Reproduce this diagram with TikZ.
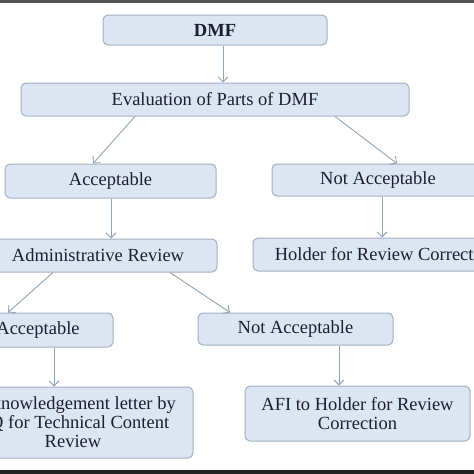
\documentclass[tikz,border=0pt]{standalone}
\usepackage{fontspec}
\setmainfont{Liberation Serif}
\usetikzlibrary{arrows.meta}
\definecolor{boxfill}{HTML}{DCE6F2}
\definecolor{boxline}{HTML}{A3B0C0}
\definecolor{arrowcol}{HTML}{8FA5B7}
\definecolor{txt}{HTML}{1E1E32}
\tikzset{
  box/.style={draw=boxline, line width=1pt, fill=boxfill, rounded corners=5pt,
    text=txt, font=\fontsize{18.5}{19}\selectfont, align=center, inner sep=0pt},
  conn/.style={draw=arrowcol, line width=0.9pt, -{Straight Barb[length=5pt,width=10pt]}}
}
\begin{document}
\begin{tikzpicture}[x=1pt,y=-1pt]
\useasboundingbox (0,0) rectangle (474,474);
\clip (0,0) rectangle (474,474);
\fill[white] (0,0) rectangle (474,474);
\fill[black!67] (0,0) rectangle (474,2.5);
\fill[black!87] (0,469.5) rectangle (474,474);
\node[box, minimum width=224pt, minimum height=30pt] (dmf) at (215,30) {\textbf{DMF}};
\node[box, minimum width=388pt, minimum height=33pt] (eval) at (215,99.5) {Evaluation of Parts of DMF};
\node[box, minimum width=211pt, minimum height=34pt] (acc1) at (110.5,181) {Acceptable};
\node[box, minimum width=212pt, minimum height=32pt] (nacc1) at (378,180) {Not Acceptable};
\node[box, minimum width=238pt, minimum height=33pt] (admin) at (98,255.5) {Administrative Review};
\node[box, minimum width=266pt, minimum height=33pt] (holder) at (386,254.5) {Holder for Review Correction};
\node[box, minimum width=150pt, minimum height=34pt] (acc3) at (38,330) {Acceptable};
\node[box, minimum width=195pt, minimum height=32pt] (nacc3) at (295.5,329) {Not Acceptable};
\node[box, minimum width=240pt, minimum height=71pt] (ack) at (73,422.5) {Acknowledgement letter by\\HQ for Technical Content\\Review};
\node[box, minimum width=225pt, minimum height=55pt] (afi) at (357.5,413.5) {AFI to Holder for Review\\Correction};
\draw[conn] ([xshift=8pt]dmf.south) -- ([xshift=8pt]eval.north);
\draw[conn] ([xshift=-80pt]eval.south) -- ([xshift=-17.5pt]acc1.north);
\draw[conn] ([xshift=120pt]eval.south) -- ([xshift=19pt]nacc1.north);
\draw[conn] ([xshift=0.5pt]acc1.south) -- ([xshift=13pt]admin.north);
\draw[conn] ([xshift=4pt]nacc1.south) -- ([xshift=-4pt]holder.north);
\draw[conn] ([xshift=-45pt]admin.south) -- ([xshift=-30pt]acc3.north);
\draw[conn] ([xshift=72pt]admin.south) -- ([xshift=-65.5pt]nacc3.north);
\draw[conn] ([xshift=16pt]acc3.south) -- ([xshift=-19pt]ack.north);
\draw[conn] ([xshift=43.5pt]nacc3.south) -- ([xshift=-18.5pt]afi.north);
\end{tikzpicture}
\end{document}
